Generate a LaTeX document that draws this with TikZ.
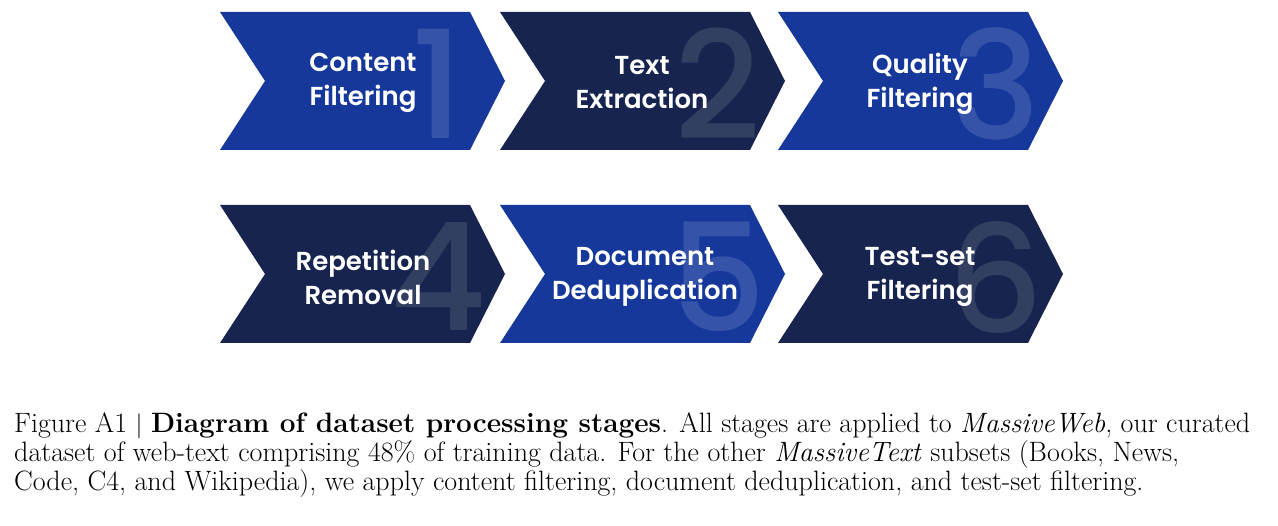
\documentclass[tikz,border=0pt]{standalone}
\usepackage{fontspec}
\newfontfamily\pop[UprightFont=* SemiBold]{Poppins}
\newfontfamily\popm{Poppins Medium}
\definecolor{cblue}{HTML}{15389A}
\definecolor{cnavy}{HTML}{17244F}
\definecolor{nblue}{HTML}{3553A8}
\definecolor{nnavy}{HTML}{333F60}
\begin{document}
\begin{tikzpicture}[x=1pt,y=-1pt,
 lbl/.style={text=white,font=\pop\fontsize{26}{34}\selectfont,align=center},
 num/.style={font=\popm\fontsize{150}{150}\selectfont}]
\useasboundingbox (0,0) rectangle (1278,526);
\newcommand\chev[5]{%
 \fill[#3] (#1,#2) -- (#1+250,#2) -- (#1+285,#2+69) -- (#1+250,#2+138) -- (#1,#2+138) -- (#1+45,#2+69) -- cycle;
 \node[num,text=#4] at (#1+218,#2+72) {#5};}
\chev{220}{12}{cblue}{nblue}{1}
\chev{500}{12}{cnavy}{nnavy}{2}
\chev{778}{12}{cblue}{nblue}{3}
\chev{220}{205}{cnavy}{nnavy}{4}
\chev{500}{205}{cblue}{nblue}{5}
\chev{778}{205}{cnavy}{nnavy}{6}
\node[lbl] (t1) at (363,83) {Content\\Filtering};
\node[lbl] (t2) at (642,83) {Text\\Extraction};
\node[lbl] (t3) at (920,84) {Quality\\Filtering};
\node[lbl] (t4) at (363,277) {Repetition\\Removal};
\node[lbl] (t5) at (645,277) {Document\\Deduplication};
\node[lbl] (t6) at (920,277) {Test-set\\Filtering};
\node[anchor=north west,inner sep=0,align=left,font=\fontsize{28}{26.5}\selectfont] (cap) at (14,413)
{Figure A1 $|$ \textbf{Diagram of dataset processing stages}. All stages are applied to \textit{MassiveWeb}, our curated\\
dataset of web-text comprising 48\% of training data. For the other \textit{MassiveText} subsets (Books, News,\\
Code, C4, and Wikipedia), we apply content filtering, document deduplication, and test-set filtering.};
\end{tikzpicture}
\end{document}
